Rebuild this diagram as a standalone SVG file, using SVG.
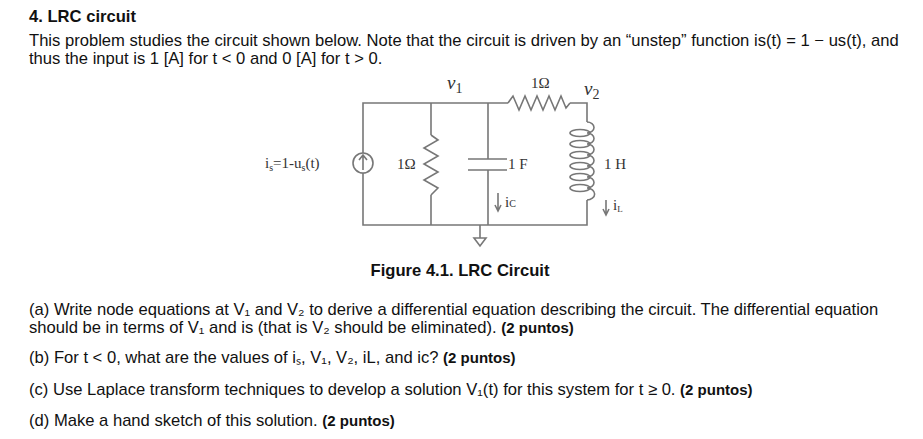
<svg xmlns="http://www.w3.org/2000/svg" width="923" height="439" viewBox="0 0 923 439">
<style>
.t{font-family:"Liberation Sans",Arial,sans-serif;font-size:16.6px;fill:#111}
.b{font-weight:bold}
.s{font-family:"Liberation Serif","Times New Roman",serif;font-size:15px;fill:#333}
.w{fill:none;stroke:#777;stroke-width:1.6}
</style>
<rect width="923" height="439" fill="#fff"/>
<text class="t b" x="29" y="22">4.  LRC circuit</text>
<text class="t" x="29" y="46">This problem studies the circuit shown below. Note that the circuit is driven by an “unstep” function is(t) = 1 − us(t), and</text>
<text class="t" x="29" y="64">thus the input is 1 [A] for t &lt; 0 and 0 [A] for t &gt; 0.</text>
<g id="connectors">
<path class="w" d="M363,153 V103 H508 M570,103 H587 V122 M587,200 V225 H363 V173 M431,103 V135 M431,195 V225 M488,103 V159 M488,170 V225 M480,225 V238"/>
</g>
<g id="source"><circle class="w" cx="363" cy="163" r="10"/><path class="w" d="M363,170 V156 M359,160 L363,155 L367,160"/>
<text class="s" x="265" y="168" font-size="17">i<tspan font-size="10" dy="3">s</tspan><tspan dy="-3">=1-u</tspan><tspan font-size="10" dy="3">s</tspan><tspan dy="-3">(t)</tspan></text></g>
<g id="r1"><path class="w" d="M431,135 L438,140 L424,148 L438,156 L424,164 L438,172 L424,180 L438,188 L431,195"/><text class="s" x="397" y="169">1Ω</text></g>
<g id="cap"><path class="w" d="M468,159 H507 M468,170 H507"/><text class="s" x="508" y="169">1 F</text>
<path class="w" d="M498,193 V210 M495,205 L498,211 L501,205"/><text class="s" x="505" y="207">i<tspan font-size="10">C</tspan></text></g>
<g id="r2"><path class="w" d="M508,103 L513,96 L519,110 L525,96 L531,110 L537,96 L543,110 L549,96 L555,110 L561,96 L566,108 L570,103"/><text class="s" x="531" y="88">1Ω</text></g>
<g id="ind"><path class="w" d="M587,122 a7,5.5 0 0 1 0,11 a7,5.5 0 0 1 0,11 a7,5.5 0 0 1 0,11 a7,5.5 0 0 1 0,11 a7,5.5 0 0 1 0,11 a7,5.5 0 0 1 0,11 a7,5.5 0 0 1 0,12"/>
<g class="w"><ellipse cx="580" cy="133" rx="10" ry="3.5"/><ellipse cx="580" cy="144" rx="10" ry="3.5"/><ellipse cx="580" cy="155" rx="10" ry="3.5"/><ellipse cx="580" cy="166" rx="10" ry="3.5"/><ellipse cx="580" cy="177" rx="10" ry="3.5"/><ellipse cx="580" cy="188" rx="10" ry="3.5"/></g>
<text class="s" x="604" y="169">1 H</text>
<path class="w" d="M606,200 V215 M603,209 L606,215 L609,209"/><text class="s" x="613" y="210">i<tspan font-size="9" dy="2">L</tspan></text></g>
<g id="gnd"><path class="w" d="M474,238 H486 L480,246 Z"/></g>
<text x="447" y="89" font-family="Liberation Serif,serif" font-style="italic" font-size="19" fill="#333">v<tspan font-size="14" font-style="normal" dy="4">1</tspan></text>
<text x="584" y="95" font-family="Liberation Serif,serif" font-style="italic" font-size="19" fill="#333">v<tspan font-size="14" font-style="normal" dy="4">2</tspan></text>
<text class="t b" x="460" y="276" text-anchor="middle" font-size="15">Figure 4.1. LRC Circuit</text>
<text class="t" x="29" y="315">(a) Write node equations at V₁ and V₂ to derive a differential equation describing the circuit. The differential equation</text>
<text class="t" x="29" y="333">should be in terms of V₁ and is (that is V₂ should be eliminated). <tspan class="b" font-size="15">(2 puntos)</tspan></text>
<text class="t" x="29" y="363">(b) For t &lt; 0, what are the values of iₛ, V₁, V₂, iL, and ic? <tspan class="b" font-size="15">(2 puntos)</tspan></text>
<text class="t" x="29" y="395">(c) Use Laplace transform techniques to develop a solution V₁(t) for this system for t ≥ 0. <tspan class="b" font-size="15">(2 puntos)</tspan></text>
<text class="t" x="29" y="426">(d) Make a hand sketch of this solution. <tspan class="b" font-size="15">(2 puntos)</tspan></text>
</svg>
